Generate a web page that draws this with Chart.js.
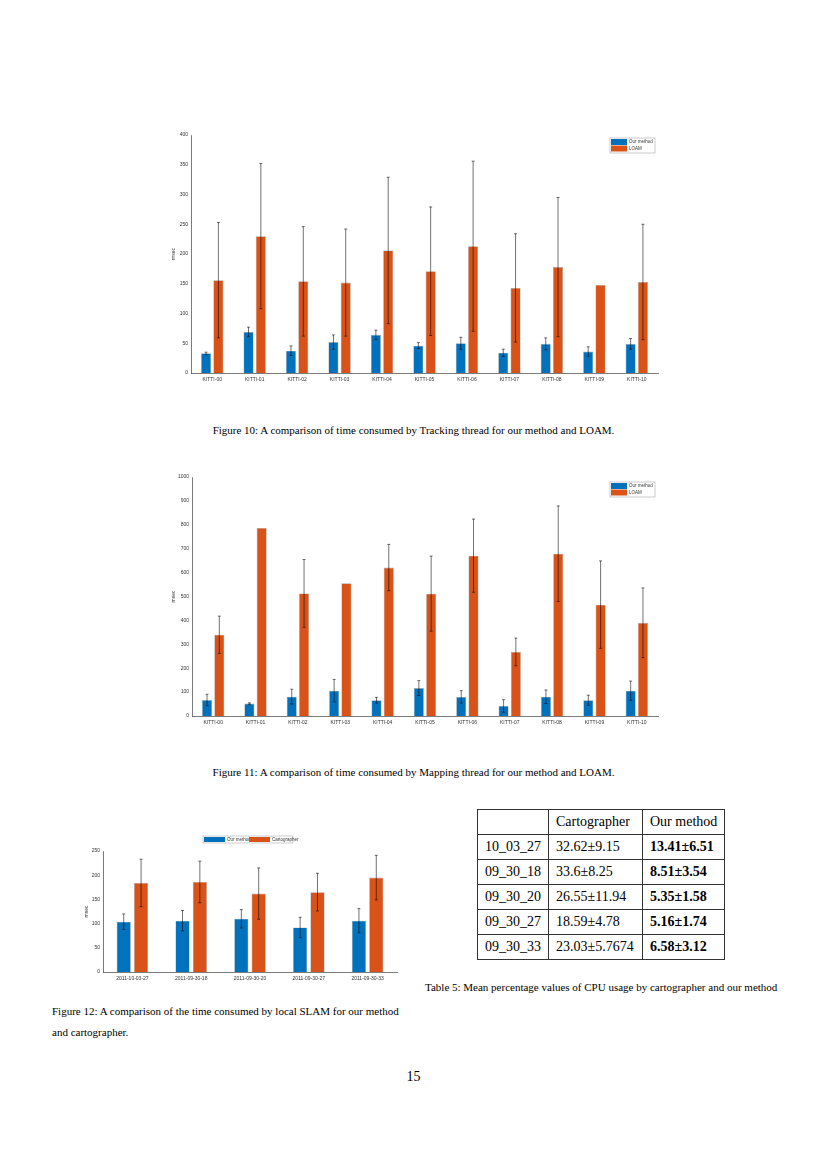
<!DOCTYPE html>
<html>
<head>
<meta charset="utf-8">
<script src="https://cdn.jsdelivr.net/npm/chart.js@4.4.1/dist/chart.umd.min.js"></script>
<style>
  body { margin: 0; background: #fff; width: 827px; height: 1169px; position: relative; font-family: "Liberation Serif", serif; color: #000; }
  .box { position: absolute; }
  .cap { position: absolute; font-size: 11px; line-height: 21px; }
  table { position: absolute; left: 477px; top: 809px; border-collapse: collapse; font-size: 14px; }
  td { border: 1px solid #333; height: 24px; padding: 0 7px; white-space: nowrap; }
</style>
</head>
<body>

<div class="box" style="left:140px;top:120px;width:540px;height:280px"><canvas id="grafico1"></canvas></div>
<div class="cap" style="left:0;width:827px;text-align:center;top:420px">Figure 10: A comparison of time consumed by Tracking thread for our method and LOAM.</div>

<div class="box" style="left:140px;top:465px;width:540px;height:280px"><canvas id="grafico2"></canvas></div>
<div class="cap" style="left:0;width:827px;text-align:center;top:762px">Figure 11: A comparison of time consumed by Mapping thread for our method and LOAM.</div>

<div class="box" style="left:50px;top:825px;width:360px;height:160px"><canvas id="grafico3"></canvas></div>
<div class="cap" style="left:52px;top:1001px;width:360px">Figure 12: A comparison of the time consumed by local SLAM for our method and cartographer.</div>

<table>
  <tr><td style="width:53px"></td><td style="width:79px">Cartographer</td><td style="width:67px">Our method</td></tr>
  <tr><td>10_03_27</td><td>32.62±9.15</td><td><b>13.41±6.51</b></td></tr>
  <tr><td>09_30_18</td><td>33.6±8.25</td><td><b>8.51±3.54</b></td></tr>
  <tr><td>09_30_20</td><td>26.55±11.94</td><td><b>5.35±1.58</b></td></tr>
  <tr><td>09_30_27</td><td>18.59±4.78</td><td><b>5.16±1.74</b></td></tr>
  <tr><td>09_30_33</td><td>23.03±5.7674</td><td><b>6.58±3.12</b></td></tr>
</table>
<div class="cap" style="left:425px;top:977px">Table 5: Mean percentage values of CPU usage by cartographer and our method</div>

<div class="cap" style="left:0;width:827px;text-align:center;top:1066px;font-size:14px">15</div>

<script>
// dados
var kittiLabels = ['KITTI-00', 'KITTI-01', 'KITTI-02', 'KITTI-03', 'KITTI-04', 'KITTI-05', 'KITTI-06', 'KITTI-07', 'KITTI-08', 'KITTI-09', 'KITTI-10'];

var trackOur = [33, 69, 37.5, 52, 64, 46, 50, 34, 49, 36, 49];
var trackOurErr = [2, 8, 8, 12, 8, 5, 10, 6, 10, 8, 9];
var trackLoam = [156, 230, 154, 152, 206, 171, 213, 143, 178, 148, 153];
var trackLoamErr = [97, 122, 92, 90, 123, 108, 143, 91, 117, 0, 97];

var mapOur = [67, 52, 81, 106, 66, 117, 80, 42, 81, 66, 106];
var mapOurErr = [24, 3, 31, 47, 12, 31, 26, 26, 28, 21, 40];
var mapLoam = [340, 787, 513, 555, 621, 512, 671, 268, 679, 466, 390];
var mapLoamErr = [78, 0, 142, 0, 97, 157, 153, 58, 200, 183, 146];

var slamLabels = ['2011-10-03-27', '2011-09-30-18', '2011-09-30-20', '2011-09-30-27', '2011-09-30-33'];
var slamOur = [104, 106, 110, 92, 106];
var slamOurErr = [16, 21, 19, 21, 25];
var slamCarto = [184, 186, 162, 165, 195];
var slamCartoErr = [49, 43, 53, 39, 46];

var azul = '#0072BD';
var laranja = '#D95319';

// barras de erro desenhadas com a escala y do grafico
var errorBars = {
  id: 'errorBars',
  afterDatasetsDraw: function(chart) {
    var c = chart.ctx;
    var y = chart.scales.y;
    c.save();
    c.strokeStyle = 'rgba(0,0,0,0.8)';
    c.lineWidth = 0.7;
    chart.data.datasets.forEach(function(ds, i) {
      var meta = chart.getDatasetMeta(i);
      meta.data.forEach(function(bar, j) {
        var e = ds.errors[j];
        if (!e) return;
        var top = y.getPixelForValue(ds.data[j] + e);
        var bot = y.getPixelForValue(ds.data[j] - e);
        c.beginPath();
        c.moveTo(bar.x, top); c.lineTo(bar.x, bot);
        c.moveTo(bar.x - 1.5, top); c.lineTo(bar.x + 1.5, top);
        c.moveTo(bar.x - 1.5, bot); c.lineTo(bar.x + 1.5, bot);
        c.stroke();
      });
    });
    c.restore();
  }
};

// legenda estilo matlab
var boxLegend = {
  id: 'boxLegend',
  afterDraw: function(chart) {
    var opt = chart.options.plugins.boxLegend;
    var c = chart.ctx;
    var sets = chart.data.datasets;
    c.save();
    c.font = '4.5px Arial';
    c.textBaseline = 'middle';
    c.strokeStyle = '#aaa';
    c.lineWidth = 0.6;
    if (opt.horizontal) {
      c.fillStyle = '#fff';
      c.fillRect(opt.x, opt.y, opt.w, opt.h);
      c.strokeRect(opt.x, opt.y, opt.w, opt.h);
      var x = opt.x + 1;
      sets.forEach(function(ds) {
        c.fillStyle = ds.backgroundColor;
        c.fillRect(x, opt.y + 1, 21, opt.h - 2);
        c.fillStyle = '#333';
        c.fillText(ds.label, x + 23, opt.y + opt.h / 2);
        x += opt.w / 2;
      });
    } else {
      var bx = chart.chartArea.right - opt.w - 3;
      var by = chart.chartArea.top + opt.dy;
      c.fillStyle = '#fff';
      c.fillRect(bx, by, opt.w, 15);
      c.strokeRect(bx, by, opt.w, 15);
      sets.forEach(function(ds, i) {
        c.fillStyle = ds.backgroundColor;
        c.fillRect(bx + 1, by + 1 + i * 6.5, 16, 6);
        c.fillStyle = '#333';
        c.fillText(ds.label, bx + 19, by + 4 + i * 6.5);
      });
    }
    c.restore();
  }
};

function criarGrafico(id, labels, ds1, ds2, yMax, yStep, yWidth, xHeight, pad, legenda, catPct) {
  return new Chart(document.getElementById(id), {
    type: 'bar',
    data: {
      labels: labels,
      datasets: [ds1, ds2]
    },
    options: {
      responsive: true,
      maintainAspectRatio: false,
      animation: false,
      layout: { padding: pad },
      datasets: { bar: { categoryPercentage: catPct, barPercentage: 0.82, borderWidth: 0.6, borderColor: 'rgba(0,0,0,0.35)' } },
      plugins: {
        legend: { display: false },
        tooltip: { enabled: false },
        boxLegend: legenda
      },
      scales: {
        x: {
          grid: { display: false, drawTicks: false },
          border: { color: '#444', width: 0.7 },
          ticks: { font: { size: 5, family: 'Arial' }, color: '#333', maxRotation: 0, padding: 4 },
          afterFit: function(s) { s.height = xHeight; }
        },
        y: {
          min: 0, max: yMax,
          grid: { display: false, drawTicks: false },
          border: { color: '#444', width: 0.7 },
          ticks: { stepSize: yStep, font: { size: 5, family: 'Arial' }, color: '#333', padding: 3,
                   callback: function(v) { return String(v); } },
          title: { display: true, text: 'msec', font: { size: 5, family: 'Arial' }, color: '#333', padding: 0 },
          afterFit: function(s) { s.width = yWidth; }
        }
      }
    },
    plugins: [errorBars, boxLegend]
  });
}

criarGrafico('grafico1', kittiLabels,
  { label: 'Our method', data: trackOur, errors: trackOurErr, backgroundColor: azul },
  { label: 'LOAM', data: trackLoam, errors: trackLoamErr, backgroundColor: laranja },
  400, 50, 20, 27, { top: 15, right: 22, left: 31, bottom: 0 },
  { w: 45, dy: 3 }, 0.58);

criarGrafico('grafico2', kittiLabels,
  { label: 'Our method', data: mapOur, errors: mapOurErr, backgroundColor: azul },
  { label: 'LOAM', data: mapLoam, errors: mapLoamErr, backgroundColor: laranja },
  1000, 100, 21, 29, { top: 12, right: 22, left: 31, bottom: 0 },
  { w: 45, dy: 5 }, 0.58);

criarGrafico('grafico3', slamLabels,
  { label: 'Our method', data: slamOur, errors: slamOurErr, backgroundColor: azul },
  { label: 'Cartographer', data: slamCarto, errors: slamCartoErr, backgroundColor: laranja },
  250, 50, 19, 13, { top: 26, right: 13, left: 34, bottom: 0 },
  { horizontal: true, x: 153, y: 11, w: 90, h: 7 }, 0.59);
</script>
</body>
</html>
